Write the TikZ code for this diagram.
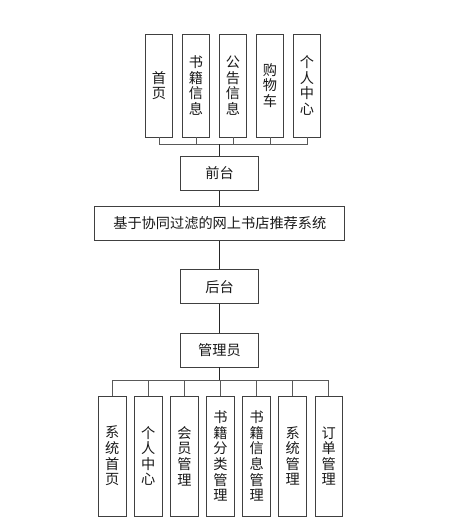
\documentclass[tikz,border=0pt]{standalone}
\usepackage{fontspec}
\newfontfamily\cjk{Noto Sans CJK SC}
\usetikzlibrary{positioning}

\begin{document}
\begin{tikzpicture}[
      x=1pt, y=-1pt,
      box/.style={draw=black!75, line width=0.9pt, inner sep=0pt, text=black!90,
        font=\cjk\fontsize{14.2}{15.6}\selectfont},
      tall/.style={box, minimum width=27.7pt, text width=15pt, align=center},
      upper/.style={tall, minimum height=103pt},
      lower/.style={tall, minimum height=120pt},
      stage/.style={box, minimum width=77.5pt, minimum height=34pt},
      title/.style={box, minimum width=250pt, minimum height=34.7pt},
      link/.style={draw=black!65, line width=0.9pt},
      trunk/.style={draw=black!85, line width=1pt},
  ]
    \useasboundingbox (0,0) rectangle (474,525);

    % front end modules
    \node[upper] (home)   at (159,85.5) {首\\页};
    \node[upper] (books)  at (196,85.5) {书\\籍\\信\\息};
    \node[upper] (notice) at (233,85.5) {公\\告\\信\\息};
    \node[upper] (cart)   at (270,85.5) {购\\物\\车};
    \node[upper] (mine)   at (307,85.5) {个\\人\\中\\心};

    % main chain
    \node[stage] (front) at (219.5,173.5) {前台};
    \node[title] (system) at (219.8,223.3) {基于协同过滤的网上书店推荐系统};
    \node[stage] (back)  at (219.5,286.7) {后台};
    \node[stage] (admin) at (219.5,350) {管理员};

    % back end modules
    \node[lower] (sysHome)   at (112.2,456) {系\\统\\首\\页};
    \node[lower] (adminMine) at (148.3,456) {个\\人\\中\\心};
    \node[lower] (member)    at (184.4,456) {会\\员\\管\\理};
    \node[lower] (category)  at (220.5,456) {书\\籍\\分\\类\\管\\理};
    \node[lower] (bookMgr)   at (256.6,456) {书\\籍\\信\\息\\管\\理};
    \node[lower] (sysMgr)    at (292.7,456) {系\\统\\管\\理};
    \node[lower] (order)     at (328.8,456) {订\\单\\管\\理};

    \coordinate (topBus) at (219.5,144);
    \coordinate (lowBus) at (219.5,380.7);

    % upper bus
    \draw[link] (home.south) -- (home.south |- topBus) -- (mine.south |- topBus) -- (mine.south);
    \draw[link] (books.south) -- (books.south |- topBus);
    \draw[link] (notice.south) -- (notice.south |- topBus);
    \draw[link] (cart.south) -- (cart.south |- topBus);
    \draw[trunk] (front.north) -- (front.north |- topBus);

    \draw[trunk] (front.south) -- (system.north -| front.south);
    \draw[trunk] (system.south -| back.north) -- (back.north);
    \draw[trunk] (back.south) -- (admin.north);

    % lower bus
    \draw[trunk] (admin.south) -- (admin.south |- lowBus);
    \draw[link] (sysHome.north) -- (sysHome.north |- lowBus) -- (order.north |- lowBus) -- (order.north);
    \draw[link] (adminMine.north) -- (adminMine.north |- lowBus);
    \draw[link] (member.north) -- (member.north |- lowBus);
    \draw[link] (category.north) -- (category.north |- lowBus);
    \draw[link] (bookMgr.north) -- (bookMgr.north |- lowBus);
    \draw[link] (sysMgr.north) -- (sysMgr.north |- lowBus);
  \end{tikzpicture}
\end{document}
